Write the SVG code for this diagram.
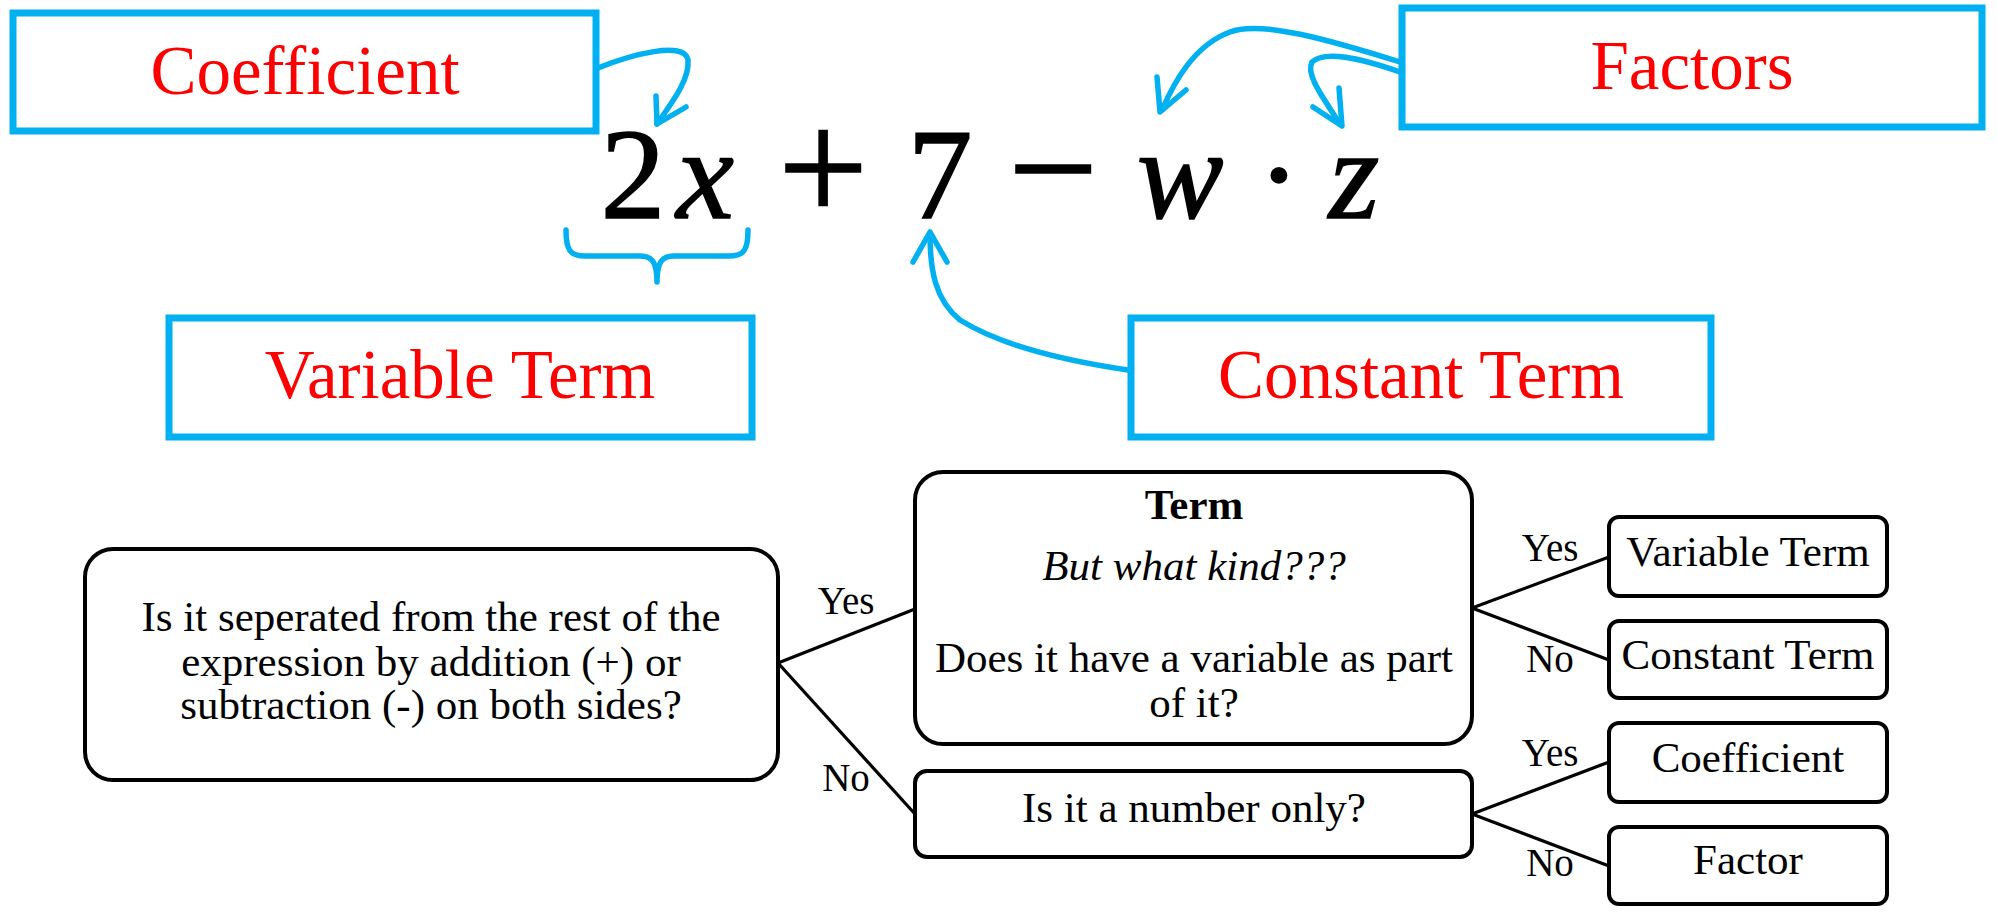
<svg xmlns="http://www.w3.org/2000/svg" width="1997" height="919" viewBox="0 0 1997 919">
<style>
  .bluebox { fill: #ffffff; stroke: #00B0F0; stroke-width: 7; }
  .redlabel { font-family: "Liberation Serif", "Times New Roman", serif; font-size: 69px; fill: #FF0000; text-anchor: middle; }
  .blueline { fill: none; stroke: #00B0F0; stroke-width: 5.5; stroke-linecap: round; stroke-linejoin: round; }
  .eq { font-family: "Liberation Serif", "Times New Roman", serif; font-size: 130px; fill: #000000; stroke: #000000; stroke-width: 1.5; text-anchor: middle; }
  .eqi { font-style: italic; }
  .op { font-size: 160px; }
  .box { fill: #ffffff; stroke: #000000; stroke-width: 4; }
  .txt { font-family: "Liberation Serif", "Times New Roman", serif; font-size: 43px; fill: #000000; text-anchor: middle; }
  .lbl { font-family: "Liberation Serif", "Times New Roman", serif; font-size: 39px; fill: #000000; text-anchor: middle; }
  .conn { fill: none; stroke: #000000; stroke-width: 3.2; }
</style>

<g id="equation">
  <text class="eq" x="633" y="218">2</text>
  <text class="eq eqi" x="705" y="218">x</text>
  <text class="eq op" x="823" y="222">+</text>
  <text class="eq" x="940" y="218">7</text>
  <text class="eq op" x="1053" y="222">−</text>
  <text class="eq eqi" x="1180" y="218">w</text>
  <text class="eq" x="1279" y="218">·</text>
  <text class="eq eqi" x="1354" y="218">z</text>
</g>

<g id="label-coefficient">
  <rect class="bluebox" x="13" y="13" width="583" height="118"/>
  <text class="redlabel" x="305" y="94">Coefficient</text>
</g>
<g id="label-factors">
  <rect class="bluebox" x="1402" y="8" width="580" height="119"/>
  <text class="redlabel" x="1692" y="89">Factors</text>
</g>
<g id="label-variable-term">
  <rect class="bluebox" x="169" y="318" width="583" height="119"/>
  <text class="redlabel" x="460" y="398">Variable Term</text>
</g>
<g id="label-constant-term">
  <rect class="bluebox" x="1131" y="318" width="580" height="119"/>
  <text class="redlabel" x="1421" y="398">Constant Term</text>
</g>

<g id="annotations">
  <path class="blueline" d="M 598 68 C 630 55, 685 40, 688 60 C 690 80, 670 105, 657 124"/>
  <path class="blueline" d="M 656 96 L 657 124 L 686 107"/>
  <path class="blueline" d="M 1400 62 C 1330 40, 1260 20, 1230 32 C 1195 45, 1175 80, 1162 110"/>
  <path class="blueline" d="M 1157 77 L 1160 112 L 1186 90"/>
  <path class="blueline" d="M 1400 72 C 1360 58, 1325 50, 1312 62 C 1305 75, 1325 100, 1340 124"/>
  <path class="blueline" d="M 1313 107 L 1342 126 L 1339 88"/>
  <path class="blueline" d="M 1128 370 C 1060 360, 1000 345, 960 320 C 935 300, 930 270, 930 234"/>
  <path class="blueline" d="M 913 262 L 930 232 L 947 262"/>
  <path class="blueline" d="M 566 230 C 566 250, 570 256, 585 256 L 640 256 C 652 256, 657 262, 657 282 M 748 230 C 748 250, 744 256, 729 256 L 674 256 C 662 256, 657 262, 657 282"/>
</g>

<g id="connectors">
  <line class="conn" x1="778" y1="663" x2="915" y2="609"/>
  <line class="conn" x1="778" y1="663" x2="915" y2="814"/>
  <line class="conn" x1="1472" y1="608" x2="1609" y2="557"/>
  <line class="conn" x1="1472" y1="608" x2="1609" y2="660"/>
  <line class="conn" x1="1472" y1="814" x2="1609" y2="762"/>
  <line class="conn" x1="1472" y1="814" x2="1609" y2="866"/>
  <text class="lbl" x="846" y="614">Yes</text>
  <text class="lbl" x="846" y="791">No</text>
  <text class="lbl" x="1550" y="561">Yes</text>
  <text class="lbl" x="1550" y="672">No</text>
  <text class="lbl" x="1550" y="766">Yes</text>
  <text class="lbl" x="1550" y="876">No</text>
</g>

<g id="node-question">
  <rect class="box" x="85" y="549" width="693" height="231" rx="28" ry="28"/>
  <text class="txt" x="431" y="631">Is it seperated from the rest of the</text>
  <text class="txt" x="431" y="676">expression by addition (+) or</text>
  <text class="txt" x="431" y="719">subtraction (-) on both sides?</text>
</g>
<g id="node-term">
  <rect class="box" x="915" y="472" width="557" height="272" rx="28" ry="28"/>
  <text class="txt" x="1194" y="519" font-weight="bold">Term</text>
  <text class="txt" x="1194" y="580" font-style="italic">But what kind???</text>
  <text class="txt" x="1194" y="672">Does it have a variable as part</text>
  <text class="txt" x="1194" y="717">of it?</text>
</g>
<g id="node-number">
  <rect class="box" x="915" y="771" width="557" height="86" rx="12" ry="12"/>
  <text class="txt" x="1194" y="822">Is it a number only?</text>
</g>
<g id="node-variable-term">
  <rect class="box" x="1609" y="517" width="278" height="79" rx="10" ry="10"/>
  <text class="txt" x="1748" y="566">Variable Term</text>
</g>
<g id="node-constant-term">
  <rect class="box" x="1609" y="621" width="278" height="77" rx="10" ry="10"/>
  <text class="txt" x="1748" y="669">Constant Term</text>
</g>
<g id="node-coefficient">
  <rect class="box" x="1609" y="723" width="278" height="79" rx="10" ry="10"/>
  <text class="txt" x="1748" y="772">Coefficient</text>
</g>
<g id="node-factor">
  <rect class="box" x="1609" y="827" width="278" height="77" rx="10" ry="10"/>
  <text class="txt" x="1748" y="874">Factor</text>
</g>
</svg>
